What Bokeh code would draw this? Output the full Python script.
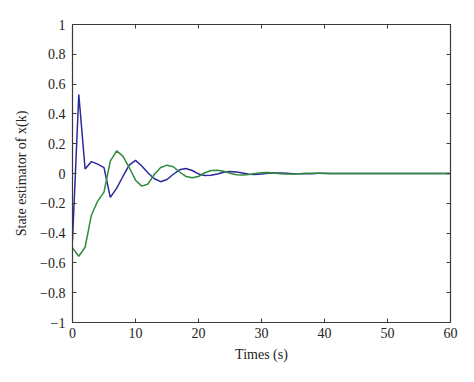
import math
from bokeh.plotting import figure
from bokeh.models import (Range1d, FixedTicker, LinearAxis,
                          CustomJSTickFormatter)
from bokeh.embed import file_html
from bokeh.resources import INLINE

# ---- data ----
k = list(range(0, 61))
blue = [-0.45, 0.53, 0.03, 0.08, 0.063, 0.04, -0.16, -0.10, -0.02, 0.056,
        0.088, 0.05, 0.003, -0.035, -0.055, -0.04, -0.005, 0.025, 0.033, 0.02,
        -0.003, -0.013, -0.012, -0.003, 0.008, 0.013, 0.01, 0.003, -0.005, -0.007,
        -0.004, 0.001, 0.004, 0.004, 0.002, -0.001, -0.002, -0.002, -0.001, 0.001,
        0.001, 0.0, 0.0, 0.0, 0.0, 0.0, 0.0, 0.0, 0.0, 0.0,
        0.0, 0.0, 0.0, 0.0, 0.0, 0.0, 0.0, 0.0, 0.0, 0.0, 0.0]
green = [-0.5, -0.555, -0.495, -0.28, -0.185, -0.125, 0.083, 0.152, 0.117, 0.04,
         -0.045, -0.085, -0.07, -0.005, 0.04, 0.056, 0.045, 0.01, -0.02, -0.028,
         -0.02, 0.005, 0.02, 0.022, 0.015, 0.002, -0.008, -0.01, -0.007, 0.0,
         0.005, 0.006, 0.003, -0.001, -0.003, -0.003, -0.001, 0.001, 0.002, 0.001,
         0.0, 0.0, 0.0, 0.0, 0.0, 0.0, 0.0, 0.0, 0.0, 0.0,
         0.0, 0.0, 0.0, 0.0, 0.0, 0.0, 0.0, 0.0, 0.0, 0.0, 0.0]
x_ticks = [0, 10, 20, 30, 40, 50, 60]
y_ticks = [-1.0, -0.8, -0.6, -0.4, -0.2, 0.0, 0.2, 0.4, 0.6, 0.8, 1.0]
x_label = "Times (s)"
y_label = "State estimator of x(k)"

FONT = "Liberation Serif"
AX = "#3a3a3a"
TXT = "#222222"

p = figure(width=466, height=374, output_backend="svg", toolbar_location=None,
           x_range=Range1d(0, 60), y_range=Range1d(-1, 1),
           min_border_left=72, min_border_top=24, min_border_right=16,
           min_border_bottom=52)
p.background_fill_color = "white"
p.border_fill_color = "white"
p.grid.visible = False
p.outline_line_color = AX
p.outline_line_width = 1.2

p.line(k, blue, line_color="#2a2a9c", line_width=1.5)
p.line(k, green, line_color="#2f8a3c", line_width=1.5)

fmt = CustomJSTickFormatter(code="""
    if (Math.abs(tick) < 1e-9) { return "0"; }
    var s = String(parseFloat(tick.toFixed(1)));
    return s.replace("-", "\\u2212");
""")

for ax in (p.xaxis[0], p.yaxis[0]):
    ax.axis_line_color = AX
    ax.major_tick_line_color = AX
    ax.major_tick_in = 4
    ax.major_tick_out = 0
    ax.minor_tick_line_color = None
    ax.major_label_text_font = FONT
    ax.major_label_text_font_size = "14px"
    ax.major_label_text_color = TXT
    ax.axis_label_text_font = FONT
    ax.axis_label_text_font_size = "14px"
    ax.axis_label_text_font_style = "normal"
    ax.axis_label_text_color = TXT

p.xaxis[0].ticker = FixedTicker(ticks=x_ticks)
p.yaxis[0].ticker = FixedTicker(ticks=y_ticks)
p.yaxis[0].formatter = fmt
p.xaxis[0].axis_label = x_label
p.yaxis[0].axis_label = y_label
p.xaxis[0].major_label_standoff = 5
p.xaxis[0].axis_label_standoff = 6
p.yaxis[0].major_label_standoff = 7
p.yaxis[0].axis_label_standoff = 8

# mirrored ticks on top and right (no labels)
blank = CustomJSTickFormatter(code="return '';")
top = LinearAxis(ticker=FixedTicker(ticks=x_ticks), formatter=blank,
                 major_tick_in=4, major_tick_out=0, minor_tick_line_color=None,
                 axis_line_color=AX, major_tick_line_color=AX,
                 major_label_standoff=0)
right = LinearAxis(ticker=FixedTicker(ticks=y_ticks), formatter=blank,
                   major_tick_in=4, major_tick_out=0, minor_tick_line_color=None,
                   axis_line_color=AX, major_tick_line_color=AX,
                   major_label_standoff=0)
p.add_layout(top, "above")
p.add_layout(right, "right")

open("out.html", "w").write(file_html(p, INLINE))
